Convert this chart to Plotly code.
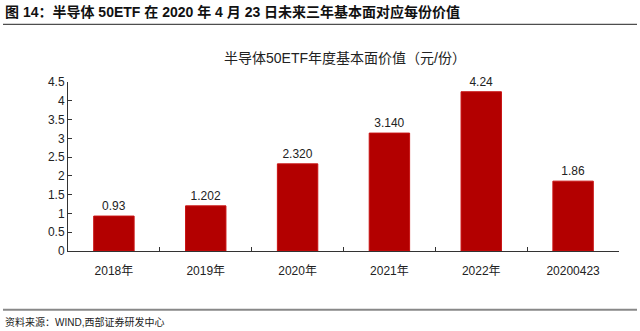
import plotly.graph_objects as go

categories = ["2018年", "2019年", "2020年", "2021年", "2022年", "20200423"]
values = [0.93, 1.202, 2.320, 3.140, 4.24, 1.86]
labels = ["0.93", "1.202", "2.320", "3.140", "4.24", "1.86"]

W, H = 640, 331
L, R, T, B = 68, 619, 81.7, 250.7

def px(x):
    return (x - L) / (R - L)

def py(y):
    return (B - y) / (B - T)

FONT = "Liberation Sans, Arial, Noto Sans CJK SC, sans-serif"

fig = go.Figure(go.Bar(
    x=categories, y=values, text=labels, textposition="outside",
    textfont=dict(size=12, color="#222", family=FONT),
    marker=dict(color="#B30000", line=dict(color="#C81010", width=1)),
    width=0.44, cliponaxis=False,
))

fig.update_layout(
    width=W, height=H,
    margin=dict(l=L, r=W - R, t=T, b=H - B),
    paper_bgcolor="white", plot_bgcolor="white",
    showlegend=False,
    font=dict(family=FONT, color="#222"),
    xaxis=dict(showline=True, linecolor="#333", linewidth=1, ticks="inside",
               tickson="boundaries", ticklen=4, tickcolor="#333",
               ticklabelstandoff=9,
               tickfont=dict(size=12, family=FONT), showgrid=False),
    yaxis=dict(range=[0, 4.5], dtick=0.5, showline=True, linecolor="#333",
               linewidth=1, ticks="inside", ticklen=4, tickcolor="#333",
               tickfont=dict(size=12, family=FONT), showgrid=False,
               zeroline=False),
    shapes=[
        dict(type="line", xref="paper", yref="paper", x0=px(3), x1=px(637),
             y0=py(24), y1=py(24), line=dict(color="#222", width=1)),
        dict(type="line", xref="paper", yref="paper", x0=px(3), x1=px(637),
             y0=py(309.5), y1=py(309.5), line=dict(color="#888", width=2)),
    ],
    annotations=[
        dict(text="<b>图 14：半导体 50ETF 在 2020 年 4 月 23 日未来三年基本面对应每份价值</b>",
             xref="paper", yref="paper", x=px(3), y=py(12), xanchor="left",
             yanchor="middle", showarrow=False,
             font=dict(size=14, color="#111", family="Liberation Sans, Noto Sans CJK SC")),
        dict(text="半导体50ETF年度基本面价值（元/份）", xref="paper", yref="paper",
             x=px(345), y=py(58), xanchor="center", yanchor="middle",
             showarrow=False, font=dict(size=14, color="#222", family=FONT)),
        dict(text="资料来源：WIND,西部证券研发中心", xref="paper", yref="paper",
             x=px(3), y=py(322), xanchor="left", yanchor="middle",
             showarrow=False, font=dict(size=10, color="#222", family=FONT)),
    ],
)

fig.write_html("out.html")
